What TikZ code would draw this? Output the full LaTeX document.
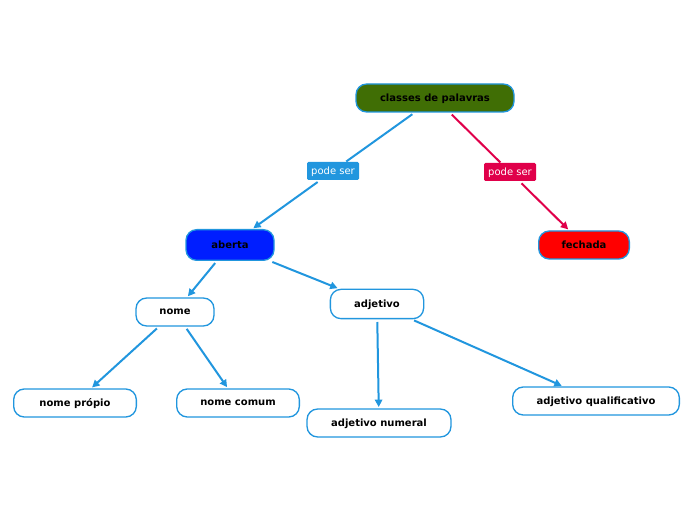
\documentclass[tikz,border=0pt]{standalone}
\usepackage{fontspec}
\setmainfont{DejaVu Sans}
\usetikzlibrary{arrows.meta}

\definecolor{mapblue}{RGB}{33,150,222}
\definecolor{mapred}{RGB}{224,0,74}
\definecolor{mapgreen}{RGB}{64,110,5}
\definecolor{mapdeep}{RGB}{0,30,255}

\tikzset{every picture/.style={line width=0.75pt}}
\tikzset{
  topic/.style={draw=mapblue,line width=1pt,rounded corners=8pt,inner sep=0.75pt,font=\fontsize{7.5}{8}\selectfont\bfseries,minimum height=21pt,text depth=1pt},
  linklabel/.style={inner sep=0.75pt,font=\fontsize{7.5}{8}\selectfont,text=white,minimum width=39pt,minimum height=13.5pt,rounded corners=1pt,text depth=1pt},
  conn/.style={draw=mapblue,line width=1.5pt,shorten <=2pt},
  connarrow/.style={conn,-{Triangle[length=5.5pt,width=5.5pt]},shorten >=1pt},
}

\begin{document}
\begin{tikzpicture}[x=0.75pt,y=0.75pt,yscale=-1,xscale=1]
\path (0,0) rectangle (696,520); %set diagram size

% Topic nodes
\node (classes) [topic,fill=mapgreen,minimum width=118.5pt] at (435,98) {classes de palavras};
\node (aberta) [topic,fill=mapdeep,minimum width=66pt,minimum height=23pt] at (230,245) {aberta};
\node (fechada) [topic,fill=red,minimum width=68pt] at (584,245) {fechada};
\node (nome) [topic,fill=white,minimum width=58.5pt] at (175,312) {nome};
\node (adjetivo) [topic,fill=white,minimum width=70pt,minimum height=22pt] at (377,304) {adjetivo};
\node (proprio) [topic,fill=white,minimum width=92pt] at (75,403) {nome própio};
\node (comum) [topic,fill=white,minimum width=92pt] at (238,403) {nome comum};
\node (numeral) [topic,fill=white,minimum width=108pt] at (379,423) {adjetivo numeral};
\node (qualif) [topic,fill=white,minimum width=125pt] at (596,401) {adjetivo qualificativo};

% Link labels
\node (podeA) [linklabel,fill=mapblue] at (333,171) {pode ser};
\node (podeB) [linklabel,fill=mapred] at (510,172) {pode ser};

% Connectors
\draw [conn] (classes) -- (podeA);
\draw [connarrow] (podeA) -- (aberta);
\draw [conn,draw=mapred] (classes) -- (podeB);
\draw [connarrow,draw=mapred] (podeB) -- (fechada);
\draw [connarrow] (aberta) -- (nome);
\draw [connarrow] (aberta) -- (adjetivo);
\draw [connarrow] (nome) -- (proprio);
\draw [connarrow] (nome) -- (comum);
\draw [connarrow] (adjetivo) -- (numeral);
\draw [connarrow] (adjetivo) -- (qualif);

\end{tikzpicture}
\end{document}
